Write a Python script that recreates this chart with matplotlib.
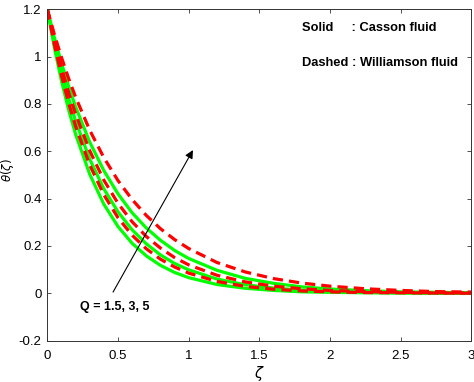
import numpy as np
import matplotlib
matplotlib.use("Agg")
import matplotlib.pyplot as plt

plt.rcParams["font.family"] = ["Liberation Sans", "DejaVu Sans"]
plt.rcParams["mathtext.fontset"] = "dejavusans"

# values
zeta = [0, 0.05, 0.1, 0.15, 0.2, 0.3, 0.4, 0.5, 0.6, 0.7, 0.8, 0.9, 1.0,
        1.2, 1.4, 1.6, 1.8, 2.0, 2.25, 2.5, 2.75, 3.0]

# Casson fluid (solid), Q = 1.5, 3, 5
casson = [
    [1.2, 1.038, .898, .777, .672, .503, .376, .282, .211, .158, .118, .088, .066,
     .037, .021, .012, .006, .004, .002, .001, 0.0, 0.0],
    [1.2, 1.059, .935, .825, .728, .567, .441, .344, .268, .209, .162, .126, .099,
     .060, .036, .022, .013, .008, .004, .002, .001, .001],
    [1.2, 1.080, .973, .876, .788, .639, .518, .420, .340, .276, .224, .181, .147,
     .097, .063, .042, .027, .018, .011, .006, .004, .002],
]

# Williamson fluid (dashed), Q = 1.5, 3, 5
williamson = [
    [1.2, 1.051, .921, .806, .706, .542, .416, .319, .245, .188, .144, .111, .085,
     .050, .029, .017, .010, .006, .003, .002, .001, 0.0],
    [1.2, 1.070, .953, .850, .758, .602, .478, .380, .302, .240, .191, .151, .120,
     .076, .048, .030, .019, .012, .007, .004, .002, .001],
    [1.2, 1.094, .997, .909, .829, .689, .573, .476, .396, .329, .273, .227, .189,
     .130, .090, .062, .043, .030, .019, .012, .007, .005],
]

xticks = [0, 0.5, 1, 1.5, 2, 2.5, 3]
yticks = [-0.2, 0, 0.2, 0.4, 0.6, 0.8, 1, 1.2]

fig = plt.figure(figsize=(4.74, 3.82), dpi=100)
ax = fig.add_axes([0.0998, 0.1084, 0.8949, 0.8673])

for c in casson:
    ax.plot(zeta, c, color="#00ff00", lw=2.3, solid_capstyle="butt")
for w in williamson:
    ax.plot(zeta, w, color="#ff0000", lw=2.3, linestyle=(0, (3.2, 1.9)))

ax.set_xlim(0, 3)
ax.set_ylim(-0.2, 1.2)
ax.set_xticks(xticks)
ax.set_xticklabels(["0", "0.5", "1", "1.5", "2", "2.5", "3"])
ax.set_yticks(yticks)
ax.set_yticklabels(["-0.2", "0", "0.2", "0.4", "0.6", "0.8", "1", "1.2"])
ax.tick_params(direction="in", top=True, right=True, labelsize=9.5,
               length=3, width=0.6, color="#333333")
ax.tick_params(axis="x", pad=7)
ax.tick_params(axis="y", pad=4)
for s in ax.spines.values():
    s.set_linewidth(0.7)
    s.set_color("#333333")

ax.set_xlabel(r"$\zeta$", fontsize=10.5, labelpad=1)
ax.set_ylabel(r"$\theta(\zeta)$", fontsize=8.5)
ax.yaxis.set_label_coords(-0.074, 0.515)

ax.text(0.6, 0.943, "Solid     : Casson fluid", transform=ax.transAxes,
        fontsize=9.3, fontweight="bold", va="center")
ax.text(0.6, 0.837, "Dashed : Williamson fluid", transform=ax.transAxes,
        fontsize=9.3, fontweight="bold", va="center")

ax.annotate("", xy=(1.03, 0.605), xytext=(0.465, 0.005),
            arrowprops=dict(arrowstyle="-|>", color="k", lw=0.8,
                            mutation_scale=12, shrinkA=0, shrinkB=0))
ax.text(0.48, -0.058, "Q = 1.5, 3, 5", ha="center", va="center",
        fontsize=9, fontweight="bold")

plt.savefig("out.png", dpi=100)
